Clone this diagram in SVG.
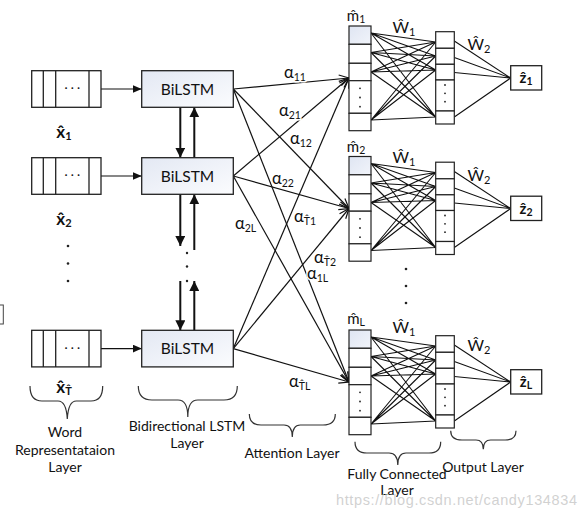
<svg xmlns="http://www.w3.org/2000/svg" width="587" height="516" viewBox="0 0 587 516">
<defs>
<linearGradient id="gB" x1="0" y1="0" x2="1" y2="1">
<stop offset="0" stop-color="#e3e8f3"/><stop offset="1" stop-color="#fbfcfe"/>
</linearGradient>
<linearGradient id="gC" x1="0" y1="0" x2="1" y2="1">
<stop offset="0" stop-color="#dfe5f2"/><stop offset="1" stop-color="#f1f4fa"/>
</linearGradient>
<marker id="fa" markerUnits="userSpaceOnUse" markerWidth="9" markerHeight="8" refX="9" refY="4" orient="auto"><path d="M0,0 L9,4 L0,8 z" fill="#111"/></marker>
<marker id="fb" markerUnits="userSpaceOnUse" markerWidth="10" markerHeight="10" refX="10" refY="5" orient="auto"><path d="M0,0 L10,5 L0,10 z" fill="#111"/></marker>
<marker id="va" markerUnits="userSpaceOnUse" markerWidth="12" markerHeight="10" refX="11" refY="5" orient="auto"><path d="M1,1 L11,5 L1,9" fill="none" stroke="#111" stroke-width="1.2"/></marker>
</defs>
<style>
text{font-family:Lato,"Noto Sans","DejaVu Sans",sans-serif;fill:#111}
.box{fill:#fff;stroke:#222;stroke-width:1.3}
.bl{fill:url(#gB);stroke:#222;stroke-width:1.3}
.top{fill:url(#gC);stroke:#222;stroke-width:1.2}
.cell{fill:#fff;stroke:#222;stroke-width:1.2}
.dv{stroke:#222;stroke-width:1.3}
.thin{stroke:#111;stroke-width:1.1;fill:none}
.att{stroke:#111;stroke-width:1.2;fill:none;marker-end:url(#va)}
.thk{stroke:#111;stroke-width:2;fill:none;marker-end:url(#fb)}
.fc{stroke:#111;stroke-width:1.1;fill:none}
.br{stroke:#333;stroke-width:1.2;fill:none}
.bt{font-size:15.5px;text-anchor:middle}
.lay{font-size:14px;text-anchor:middle}
.xl{font-size:17px;font-weight:bold;text-anchor:middle}
.al{font-size:16.5px;stroke:#fff;stroke-width:3;paint-order:stroke;stroke-linejoin:round}
.ml{font-size:15px;text-anchor:middle}
.wl{font-size:16px;text-anchor:middle}
.zl{font-size:15px;font-weight:bold;text-anchor:middle}
.dot{fill:#222}
</style>
<rect width="587" height="516" fill="#fff"/>

<!-- stray box at left edge -->
<rect x="-2" y="305" width="5.3" height="19" fill="#fff" stroke="#444" stroke-width="1"/>

<!-- connectors -->
<g id="connectors">
<line class="thin" x1="101" y1="89" x2="141.7" y2="89" marker-end="url(#fa)"/>
<line class="thin" x1="101" y1="176" x2="141.7" y2="176" marker-end="url(#fa)"/>
<line class="thin" x1="101" y1="348.6" x2="141.7" y2="348.6" marker-end="url(#fa)"/>

<line class="thk" x1="180.3" y1="107.3" x2="180.3" y2="157.7"/>
<line class="thk" x1="194.3" y1="157.7" x2="194.3" y2="107.3"/>
<line class="thk" x1="180.3" y1="194.3" x2="180.3" y2="246"/>
<line class="thk" x1="194.3" y1="250" x2="194.3" y2="194.3"/>
<line class="thk" x1="180.3" y1="281" x2="180.3" y2="330.3"/>
<line class="thk" x1="194.3" y1="330.3" x2="194.3" y2="281"/>

<line class="att" x1="233.3" y1="89" x2="349" y2="78"/>
<line class="att" x1="233.3" y1="89" x2="349" y2="208.5"/>
<line class="att" x1="233.3" y1="89" x2="349" y2="382"/>
<line class="att" x1="233.3" y1="176" x2="349" y2="78"/>
<line class="att" x1="233.3" y1="176" x2="349" y2="208.5"/>
<line class="att" x1="233.3" y1="176" x2="349" y2="382"/>
<line class="att" x1="233.3" y1="348.6" x2="349" y2="78"/>
<line class="att" x1="233.3" y1="348.6" x2="349" y2="208.5"/>
<line class="att" x1="233.3" y1="348.6" x2="349" y2="382"/>

<!-- fully connected block 1 -->
<path class="fc" d="M371,33L435.7,42M371,33L435.7,56M371,33L435.7,70M371,33L435.7,117
M371,52.5L435.7,42M371,52.5L435.7,56M371,52.5L435.7,70M371,52.5L435.7,117
M371,72L435.7,42M371,72L435.7,56M371,72L435.7,70M371,72L435.7,117
M371,120L435.7,42M371,120L435.7,56M371,120L435.7,70M371,120L435.7,117
M454.3,41L510.7,78M454.3,57.5L510.7,78M454.3,72.5L510.7,78M454.3,117L510.7,78"/>
<!-- block 2 -->
<path class="fc" transform="translate(0,130.5)" d="M371,33L435.7,42M371,33L435.7,56M371,33L435.7,70M371,33L435.7,117
M371,52.5L435.7,42M371,52.5L435.7,56M371,52.5L435.7,70M371,52.5L435.7,117
M371,72L435.7,42M371,72L435.7,56M371,72L435.7,70M371,72L435.7,117
M371,120L435.7,42M371,120L435.7,56M371,120L435.7,70M371,120L435.7,117
M454.3,41L510.7,78M454.3,57.5L510.7,78M454.3,72.5L510.7,78M454.3,117L510.7,78"/>
<!-- block L -->
<path class="fc" transform="translate(0,304)" d="M371,33L435.7,42M371,33L435.7,56M371,33L435.7,70M371,33L435.7,117
M371,52.5L435.7,42M371,52.5L435.7,56M371,52.5L435.7,70M371,52.5L435.7,117
M371,72L435.7,42M371,72L435.7,56M371,72L435.7,70M371,72L435.7,117
M371,120L435.7,42M371,120L435.7,56M371,120L435.7,70M371,120L435.7,117
M454.3,41L510.7,78M454.3,57.5L510.7,78M454.3,72.5L510.7,78M454.3,117L510.7,78"/>
</g>

<!-- attention labels -->
<g id="attention-labels">
<text class="al" x="284" y="78">α<tspan font-size="10.5" dy="3">11</tspan></text>
<text class="al" x="279" y="116">α<tspan font-size="10.5" dy="3">21</tspan></text>
<text class="al" x="290" y="144">α<tspan font-size="10.5" dy="3">12</tspan></text>
<text class="al" x="272" y="184">α<tspan font-size="10.5" dy="3">22</tspan></text>
<text class="al" x="235" y="229">α<tspan font-size="10.5" dy="3">2L</tspan></text>
<text class="al" x="294" y="222">α<tspan font-size="10.5" dy="3">T&#x302;1</tspan></text>
<text class="al" x="314" y="263">α<tspan font-size="10.5" dy="3">T&#x302;2</tspan></text>
<text class="al" x="307" y="279">α<tspan font-size="10.5" dy="3">1L</tspan></text>
<text class="al" x="289" y="387">α<tspan font-size="10.5" dy="3">T&#x302;L</tspan></text>
</g>

<!-- input nodes -->
<g id="input-1">
<rect class="box" x="31.7" y="70.7" width="69.3" height="36.6"/>
<path class="dv" d="M43.3,70.7V107.3M55.7,70.7V107.3M89,70.7V107.3"/>
<text x="72.3" y="92" font-size="12" text-anchor="middle" fill="#333">· · ·</text>
<text class="xl" x="64" y="138">x&#x302;<tspan font-size="11" dy="2">1</tspan></text>
</g>
<g id="input-2">
<rect class="box" x="31.7" y="157.7" width="69.3" height="36.6"/>
<path class="dv" d="M43.3,157.7V194.3M55.7,157.7V194.3M89,157.7V194.3"/>
<text x="72.3" y="179" font-size="12" text-anchor="middle" fill="#333">· · ·</text>
<text class="xl" x="64" y="225">x&#x302;<tspan font-size="11" dy="2">2</tspan></text>
</g>
<g id="input-dots">
<circle class="dot" cx="68" cy="246" r="1.3"/><circle class="dot" cx="68" cy="263.5" r="1.3"/><circle class="dot" cx="68" cy="281" r="1.3"/>
</g>
<g id="input-T">
<rect class="box" x="31.7" y="330.3" width="69.3" height="36.6"/>
<path class="dv" d="M43.3,330.3V366.9M55.7,330.3V366.9M89,330.3V366.9"/>
<text x="72.3" y="351.6" font-size="12" text-anchor="middle" fill="#333">· · ·</text>
<text class="xl" x="64" y="393">x&#x302;<tspan font-size="11" dy="2">T&#x302;</tspan></text>
</g>

<!-- BiLSTM nodes -->
<g id="bilstm-1"><rect class="bl" x="141.7" y="70.7" width="91.6" height="36.6"/><text class="bt" x="187.5" y="94.5">BiLSTM</text></g>
<g id="bilstm-2"><rect class="bl" x="141.7" y="157.7" width="91.6" height="36.6"/><text class="bt" x="187.5" y="181.5">BiLSTM</text></g>
<g id="bilstm-dots"><circle class="dot" cx="187" cy="253" r="1.2"/><circle class="dot" cx="187" cy="266.5" r="1.2"/><circle class="dot" cx="187" cy="281" r="1.2"/></g>
<g id="bilstm-T"><rect class="bl" x="141.7" y="330.3" width="91.6" height="36.6"/><text class="bt" x="187.5" y="354">BiLSTM</text></g>

<!-- FC columns -->
<g id="m-1">
<rect class="top" x="349" y="26" width="22" height="18.3"/>
<rect class="cell" x="349" y="44.3" width="22" height="19"/>
<rect class="cell" x="349" y="63.3" width="22" height="17.4"/>
<rect class="cell" x="349" y="80.7" width="22" height="32.6"/>
<rect class="cell" x="349" y="113.3" width="22" height="17.4"/>
<circle class="dot" cx="360" cy="88.3" r="0.9"/><circle class="dot" cx="360" cy="97.5" r="0.9"/><circle class="dot" cx="360" cy="106.7" r="0.9"/>
<text class="ml" x="356" y="21">m&#x302;<tspan font-size="10.5" dy="2">1</tspan></text>
</g>
<g id="h-1">
<rect class="cell" x="435.7" y="31.7" width="18.6" height="16.6"/>
<rect class="cell" x="435.7" y="48.3" width="18.6" height="16"/>
<rect class="cell" x="435.7" y="64.3" width="18.6" height="15.7"/>
<rect class="cell" x="435.7" y="80" width="18.6" height="31"/>
<rect class="cell" x="435.7" y="111" width="18.6" height="13"/>
<circle class="dot" cx="445" cy="85" r="0.9"/><circle class="dot" cx="445" cy="93.3" r="0.9"/><circle class="dot" cx="445" cy="101.7" r="0.9"/>
<text class="wl" x="404" y="33">Ŵ<tspan font-size="11" dy="3">1</tspan></text>
<text class="wl" x="479" y="50">Ŵ<tspan font-size="11" dy="3">2</tspan></text>
</g>
<g id="z-1"><rect class="box" x="510.7" y="65.7" width="31" height="24.3"/><text class="zl" x="526" y="83">ẑ<tspan font-size="10.5" dy="2">1</tspan></text></g>

<g id="m-2" transform="translate(0,130.5)">
<rect class="top" x="349" y="26" width="22" height="18.3"/>
<rect class="cell" x="349" y="44.3" width="22" height="19"/>
<rect class="cell" x="349" y="63.3" width="22" height="17.4"/>
<rect class="cell" x="349" y="80.7" width="22" height="32.6"/>
<rect class="cell" x="349" y="113.3" width="22" height="17.4"/>
<circle class="dot" cx="360" cy="88.3" r="0.9"/><circle class="dot" cx="360" cy="97.5" r="0.9"/><circle class="dot" cx="360" cy="106.7" r="0.9"/>
<text class="ml" x="356" y="21">m&#x302;<tspan font-size="10.5" dy="2">2</tspan></text>
</g>
<g id="h-2" transform="translate(0,130.5)">
<rect class="cell" x="435.7" y="31.7" width="18.6" height="16.6"/>
<rect class="cell" x="435.7" y="48.3" width="18.6" height="16"/>
<rect class="cell" x="435.7" y="64.3" width="18.6" height="15.7"/>
<rect class="cell" x="435.7" y="80" width="18.6" height="31"/>
<rect class="cell" x="435.7" y="111" width="18.6" height="13"/>
<circle class="dot" cx="445" cy="85" r="0.9"/><circle class="dot" cx="445" cy="93.3" r="0.9"/><circle class="dot" cx="445" cy="101.7" r="0.9"/>
<text class="wl" x="404" y="32">Ŵ<tspan font-size="11" dy="3">1</tspan></text>
<text class="wl" x="479" y="50">Ŵ<tspan font-size="11" dy="3">2</tspan></text>
</g>
<g id="z-2" transform="translate(0,130.5)"><rect class="box" x="510.7" y="65.7" width="31" height="24.3"/><text class="zl" x="526" y="83">ẑ<tspan font-size="10.5" dy="2">2</tspan></text></g>

<g id="fc-dots"><circle class="dot" cx="406" cy="269" r="1.3"/><circle class="dot" cx="406" cy="286" r="1.3"/><circle class="dot" cx="406" cy="303" r="1.3"/></g>

<g id="m-L" transform="translate(0,304)">
<rect class="top" x="349" y="26" width="22" height="18.3"/>
<rect class="cell" x="349" y="44.3" width="22" height="19"/>
<rect class="cell" x="349" y="63.3" width="22" height="17.4"/>
<rect class="cell" x="349" y="80.7" width="22" height="32.6"/>
<rect class="cell" x="349" y="113.3" width="22" height="17.4"/>
<circle class="dot" cx="360" cy="88.3" r="0.9"/><circle class="dot" cx="360" cy="97.5" r="0.9"/><circle class="dot" cx="360" cy="106.7" r="0.9"/>
<text class="ml" x="356" y="20">m&#x302;<tspan font-size="10.5" dy="2">L</tspan></text>
</g>
<g id="h-L" transform="translate(0,304)">
<rect class="cell" x="435.7" y="31.7" width="18.6" height="16.6"/>
<rect class="cell" x="435.7" y="48.3" width="18.6" height="16"/>
<rect class="cell" x="435.7" y="64.3" width="18.6" height="15.7"/>
<rect class="cell" x="435.7" y="80" width="18.6" height="31"/>
<rect class="cell" x="435.7" y="111" width="18.6" height="13"/>
<circle class="dot" cx="445" cy="85" r="0.9"/><circle class="dot" cx="445" cy="93.3" r="0.9"/><circle class="dot" cx="445" cy="101.7" r="0.9"/>
<text class="wl" x="404" y="29">Ŵ<tspan font-size="11" dy="3">1</tspan></text>
<text class="wl" x="479" y="47">Ŵ<tspan font-size="11" dy="3">2</tspan></text>
</g>
<g id="z-L" transform="translate(0,304)"><rect class="box" x="510.7" y="65.7" width="31" height="24.3"/><text class="zl" x="526" y="83">ẑ<tspan font-size="10.5" dy="2">L</tspan></text></g>

<!-- layer braces and labels -->
<g id="layer-word">
<path class="br" d="M30,386 Q30,401 42,401 L58,401 Q66.3,401 67.3,419 Q68.3,401 76.3,401 L91,401 Q102.7,401 102.7,386"/>
<text class="lay" x="65" y="436.5">Word</text>
<text class="lay" x="65" y="454.5">Representataion</text>
<text class="lay" x="65" y="471.5">Layer</text>
</g>
<g id="layer-bilstm">
<path class="br" d="M138.3,386 Q138.3,400 152,400 L178,400 Q187.8,400 187.8,417 Q187.8,400 197.8,400 L224,400 Q237.3,400 237.3,386"/>
<text class="lay" x="187" y="431">Bidirectional LSTM</text>
<text class="lay" x="187" y="448">Layer</text>
</g>
<g id="layer-attention">
<path class="br" d="M249.3,414 Q249.3,425 261,425 L284,425 Q292.3,425 292.3,437 Q292.3,425 300.3,425 L323,425 Q335.3,425 335.3,414"/>
<text class="lay" x="292" y="458">Attention Layer</text>
</g>
<g id="layer-fc">
<path class="br" d="M355,441.7 Q355,453 367,453 L389,453 Q397.8,453 397.8,465 Q397.8,453 406,453 L429,453 Q440.7,453 440.7,441.7"/>
<text class="lay" x="397" y="479">Fully Connected</text>
<text class="lay" x="397" y="495">Layer</text>
</g>
<g id="layer-output">
<path class="br" d="M450.7,430.7 Q450.7,440 462,440 L476,440 Q483.3,440 483.3,449.3 Q483.3,440 490.6,440 L505,440 Q516,440 516,430.7"/>
<text class="lay" x="483" y="471.5">Output Layer</text>
</g>

<text x="336" y="505" font-size="14.5" textLength="241" style="font-family:'Liberation Sans',Arial,sans-serif;fill:#c9c9c9;fill-opacity:0.85">https://blog.csdn.net/candy134834</text>
</svg>
